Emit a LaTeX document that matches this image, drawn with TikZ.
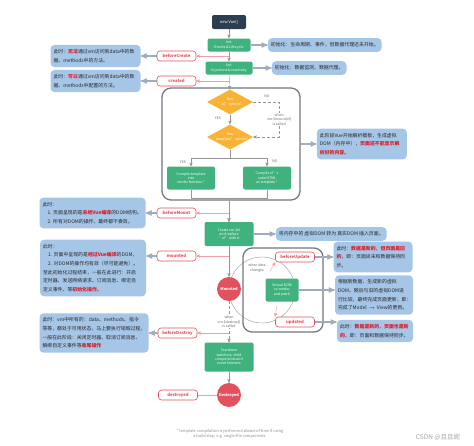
\documentclass[tikz,border=0pt]{standalone}
\usepackage{fontspec}
\setmainfont{Noto Sans CJK SC}
\usetikzlibrary{shapes.geometric,positioning,arrows,calc}

\definecolor{vuegreen}{RGB}{64,178,126}
\definecolor{vuedark}{RGB}{44,62,80}
\definecolor{hookred}{RGB}{226,82,94}
\definecolor{diamorange}{RGB}{248,178,52}
\definecolor{noteblue}{RGB}{166,198,232}
\definecolor{framegray}{RGB}{112,120,130}
\definecolor{linegray}{RGB}{150,150,150}
\definecolor{calloutgray}{RGB}{160,172,188}
\definecolor{hlred}{RGB}{218,28,38}
\newcommand{\redmark}[1]{{\color{hlred}\bfseries #1}}

\begin{document}
\begin{tikzpicture}[x=1pt,y=-1pt,>=stealth',align=center,
    greenbox/.style={fill=vuegreen,text=white,rounded corners=2pt,inner sep=1pt,font=\fontsize{3.5}{4.3}\selectfont},
    hookbox/.style={draw=hookred,fill=white,text=hookred,line width=.6pt,rounded corners=3pt,minimum width=39pt,minimum height=10pt,inner sep=0pt,font=\fontsize{4.2}{5}\selectfont\bfseries},
    notebox/.style={fill=noteblue,rounded corners=4pt,align=left,inner xsep=3pt,inner ysep=4.5pt,text=black!85,font=\fontsize{4.9}{8.6}\selectfont},
    decision/.style={diamond,fill=diamorange,minimum width=46pt,minimum height=25pt,inner sep=0pt},
    diatext/.style={text=white,align=center,font=\fontsize{3.5}{4.3}\selectfont},
    endstate/.style={circle,fill=hookred,text=white,minimum size=24pt,inner sep=0pt,font=\fontsize{3.8}{4}\selectfont\bfseries},
    frame/.style={draw=framegray,line width=1.3pt,rounded corners=9pt},
    flow/.style={->,draw=linegray,line width=.4pt},
    hookline/.style={->,draw=hookred!55,line width=.4pt},
    callout/.style={->,draw=calloutgray,line width=1.2pt},
    smalltext/.style={text=black!60,font=\fontsize{3.5}{4.3}\selectfont}]
\useasboundingbox (0,0) rectangle (474,445);

%% update loop (drawn first, boxes go on top)
\draw[linegray,line width=.4pt] (262,290) circle (33);

%% creation
\node (NewVue) [fill=vuedark,text=white,rounded corners=2pt,minimum width=34pt,minimum height=14pt,inner sep=1pt,font=\fontsize{4}{5}\selectfont] at (229,22) {new Vue()};
\node (InitEvents) [greenbox,minimum width=43pt,minimum height=13pt] at (229,45) {Init\\Events \& Lifecycle};
\node (InitInject) [greenbox,minimum width=47pt,minimum height=13pt] at (229,68) {Init\\Injections \& reactivity};
\node (NoteEvents) [notebox,right=17pt of InitEvents] {初始化：生命周期、事件，但数据代理还未开始。};
\node (NoteInject) [notebox,right=19pt of InitInject] {初始化：数据监测、数据代理。};
\draw[flow] (NewVue) -- (InitEvents);
\draw[flow] (InitEvents) -- (InitInject);
\draw[callout] (InitEvents) -- (NoteEvents);
\draw[callout] (InitInject) -- (NoteInject);

\node (HookBeforeCreate) [hookbox] at (176.5,56) {beforeCreate};
\node (HookCreated) [hookbox] at (176.5,81) {created};
\node (NoteBeforeCreate) [notebox,text width=84pt,left=16pt of HookBeforeCreate]
      {此时：\redmark{无法}通过vm访问到data中的数\\据、methods中的方法。};
\node (NoteCreated) [notebox,text width=84pt,left=16pt of HookCreated]
      {此时：\redmark{可以}通过vm访问到data中的数\\据、methods中配置的方法。};
\draw[hookline] (HookBeforeCreate -| NewVue) -- (HookBeforeCreate);
\draw[hookline] (HookCreated -| NewVue) -- (HookCreated);
\draw[callout] (HookBeforeCreate) -- (NoteBeforeCreate);
\draw[callout] (HookCreated) -- (NoteCreated);

%% template compilation
\node (CompileFrame) [frame,minimum width=138pt,minimum height=112pt] at (231,144) {};
\node (HasEl) [decision,label={[diatext]center:Has\\"el" option?}] at (230,102) {};
\node (HasTpl) [decision,label={[diatext]center:Has\\"template" option?}] at (230,137) {};
\node (CompileTpl) [greenbox,minimum width=48pt,minimum height=23pt] at (191,178) {Compile template\\into\\render function *};
\node (CompileEl) [greenbox,minimum width=48pt,minimum height=23pt] at (267,178) {Compile el's\\outerHTML\\as template *};
\node (YesEl) [smalltext] at (218,118) {YES};
\node (NoEl) [smalltext] at (267,96) {NO};
\node (YesTpl) [smalltext] at (183,162) {YES};
\node (NoTpl) [smalltext] at (275,161) {NO};
\draw[flow] (InitInject) -- (HasEl);
\draw[flow] (HasEl) -- (HasTpl);
\draw[flow,densely dashed] (HasEl.east) -- ++(26,0) |- (HasTpl.east)
      node[pos=.25,fill=white,inner sep=1pt,smalltext] {when\\vm.\$mount(el)\\is called};
\draw[flow] (HasTpl.south) -- ++(0,8) -| (CompileTpl);
\draw[flow] (HasTpl.south) -- ++(0,8) -| (CompileEl);

\node (NoteTemplate) [notebox,text width=84pt,right=16pt of CompileFrame]
      {此阶段Vue开始解析模板，生成虚拟\\DOM（内存中），\redmark{页面还不能显示解}\\\redmark{析好的内容}。};
\draw[callout] (CompileFrame) -- (NoteTemplate);

%% mounting
\node (CreateEl) [greenbox,minimum width=49pt,minimum height=24pt] at (229,234) {Create vm.\$el\\and replace\\"el" with it};
\draw[flow] (CompileTpl.south) -- ++(0,8) -| (CreateEl);
\draw[flow] (CompileEl.south) -- ++(0,8) -| (CreateEl);
\node (NoteCreateEl) [notebox,right=22pt of CreateEl] {将内存中的 虚拟DOM 转为 真实DOM 插入页面。};
\draw[callout] (CreateEl) -- (NoteCreateEl);

\node (HookBeforeMount) [hookbox] at (176.5,213) {beforeMount};
\node (HookMounted) [hookbox] at (176.5,256) {mounted};
\node (NoteBeforeMount) [notebox,text width=100pt,left=11pt of HookBeforeMount]
      {此时：\\\hspace*{5pt}1.~页面呈现的是\redmark{未经Vue编译}的DOM结构。\\\hspace*{5pt}2.~所有对DOM的操作，最终都不奏效。};
\node (NoteMounted) [notebox,text width=100pt] at (93,268)
      {此时：\\\hspace*{5pt}1.~页面中呈现的是\redmark{经过Vue编译}的DOM，\\\hspace*{5pt}2.~对DOM的操作均有效（尽可能避免）。\\至此初始化过程结束，一般在此进行：开启\\定时器、发送网络请求、订阅消息、绑定自\\定义事件、等\redmark{初始化操作}。};
\draw[hookline] (HookBeforeMount -| NewVue) -- (HookBeforeMount);
\draw[hookline] (HookMounted -| NewVue) -- (HookMounted);
\draw[callout] (HookBeforeMount) -- (NoteBeforeMount);
\draw[callout] (HookMounted) -- (HookMounted -| NoteMounted.east);

\node (MountedState) [endstate] at (229,289) {Mounted};
\draw[flow] (CreateEl) -- (MountedState);

%% updating
\node (UpdateFrame) [frame,minimum width=80pt,minimum height=84pt] at (283,290) {};
\node (HookBeforeUpdate) [hookbox] at (295,257) {beforeUpdate};
\node (VDom) [greenbox,minimum width=33pt,minimum height=23pt] at (282,290) {Virtual DOM\\re-render\\and patch};
\node (HookUpdated) [hookbox] at (295,322) {updated};
\node (DataChanges) [smalltext] at (257,268) {when data\\changes};
\coordinate (ToBeforeUpdate) at (270,271);
\coordinate (ToUpdated) at (277,305);
\draw[hookline] (ToBeforeUpdate) -- (HookBeforeUpdate.south west);
\draw[hookline] (ToUpdated) -- (HookUpdated.north west);

\node (NoteBeforeUpdate) [notebox,text width=73pt] at (373,257)
      {此时：\redmark{数据是新的}，\redmark{但页面是旧}\\\redmark{的}，即：页面尚未和数据保持同\\步。};
\node (NoteVDom) [notebox,text width=72pt] at (374,295)
      {根据新数据，生成新的虚拟\\DOM，随后与旧的虚拟DOM进\\行比较，最终完成页面更新，即：\\完成了Model $\rightarrow$ View的更新。};
\node (NoteUpdated) [notebox,text width=70pt] at (375,331)
      {此时：\redmark{数据是新的}，\redmark{页面也是新}\\\redmark{的}，即：页面和数据保持同步。};
\draw[callout] (HookBeforeUpdate) -- (HookBeforeUpdate -| NoteBeforeUpdate.west);
\draw[callout] (VDom) -- (VDom -| NoteVDom.west);
\draw[callout] (HookUpdated.east) -- (HookUpdated.east -| NoteUpdated.west);

%% destruction
\node (Teardown) [greenbox,minimum width=49pt,minimum height=29pt] at (229,357) {Teardown\\watchers, child\\components and\\event listeners};
\draw[flow,densely dashed] (MountedState) -- (Teardown)
      node[midway,fill=white,inner sep=1pt,smalltext] {when\\vm.\$destroy()\\is called};
\node (DestroyedState) [endstate] at (229,395) {Destroyed};
\draw[flow] (Teardown) -- (DestroyedState);

\node (HookBeforeDestroy) [hookbox] at (177.5,333) {beforeDestroy};
\node (NoteBeforeDestroy) [notebox,text width=103pt,left=9pt of HookBeforeDestroy]
      {此时：vm中所有的：data、methods、指令\\等等，都处于可用状态，马上要执行销毁过程，\\一般在此阶段：关闭定时器、取消订阅消息、\\解绑自定义事件等\redmark{收尾操作}};
\draw[hookline] (HookBeforeDestroy -| NewVue) -- (HookBeforeDestroy);
\draw[callout] (HookBeforeDestroy) -- (NoteBeforeDestroy);

\node (HookDestroyed) [hookbox] at (178,395) {destroyed};
\draw[hookline,-] (DestroyedState) -- (HookDestroyed);

%% footer
\node (Footnote) [text=black!45,font=\fontsize{3.9}{5}\selectfont] at (230,434)
      {* template compilation is performed ahead-of-time if using\\a build step, e.g. single-file components.};
\node (Watermark) [text=black!35,font=\fontsize{6.5}{7}\selectfont] at (438,437) {CSDN @且且妮};
\end{tikzpicture}
\end{document}
